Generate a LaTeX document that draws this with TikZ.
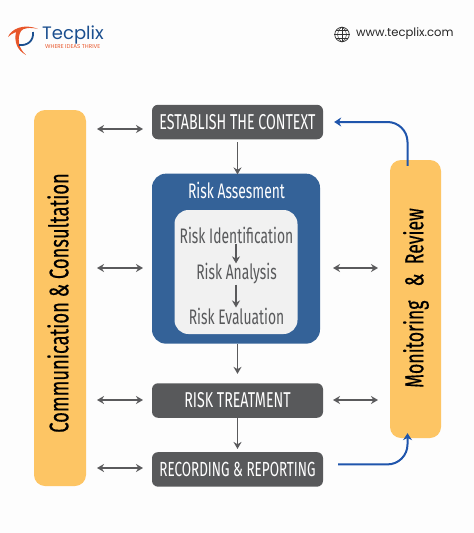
\documentclass[tikz,border=0pt]{standalone}
\usepackage{fontspec}
\usepackage{xcolor}
\usetikzlibrary{arrows.meta,positioning}
\setmainfont{Fira Sans}
\newfontfamily\condfont[FakeStretch=0.66]{Fira Sans}
\newfontfamily\sidefont[FakeStretch=0.68,FakeBold=0.4]{Fira Sans}
\newfontfamily\logofont{Poppins}
\definecolor{pagegrey}{HTML}{FDFDFD}
\definecolor{boxgrey}{HTML}{58595B}
\definecolor{arrowgrey}{HTML}{5A5A5C}
\definecolor{assessblue}{HTML}{346298}
\definecolor{innergrey}{HTML}{F1F1F1}
\definecolor{sideyellow}{HTML}{FDC564}
\definecolor{loopblue}{HTML}{1F55AC}
\definecolor{logonavy}{HTML}{1B4F8F}
\definecolor{logoorange}{HTML}{E8562A}

\begin{document}
\begin{tikzpicture}[
  x=1pt,y=-1pt,
  node distance=34pt,
  stepbox/.style={fill=boxgrey,text=white,rounded corners=6pt,minimum width=171pt,
    minimum height=34.5pt,inner sep=0pt,font=\condfont\fontsize{21.5}{23}\selectfont},
  sidebox/.style={fill=sideyellow,rounded corners=11pt,inner sep=0pt},
  sidetext/.style={rotate=90,text=black,font=\sidefont\fontsize{27}{29}\selectfont},
  subtext/.style={text=boxgrey,inner sep=0pt,font=\condfont\fontsize{21}{23}\selectfont},
  flow/.style={-{Stealth[length=7pt,width=8pt]},arrowgrey,line width=1.8pt},
  both/.style={{Stealth[length=7pt,width=8pt]}-{Stealth[length=7pt,width=8pt]},arrowgrey,line width=1.8pt},
  loopflow/.style={-{Stealth[length=7pt,width=9pt]},loopblue,line width=2pt}
]
\useasboundingbox (0,0) rectangle (474,533);
\fill[pagegrey] (0,0) rectangle (474,533);

% logo and web address
\node[inner sep=0pt,anchor=west,text=logonavy,font=\logofont\fontsize{18}{20}\selectfont] (brand) at (42,35) {Tecplix};
\node[inner sep=0pt,anchor=north west,text=logoorange,font=\logofont\fontsize{5.6}{6}\selectfont] (tagline) at (45,44.5) {WHERE IDEAS THRIVE};
\fill[logoorange] (8,37) .. controls (11,29) and (24,23) .. (38,29) .. controls (30,27) and (23,28) .. (21,31)
  .. controls (17,38) and (18,48) .. (26,55) .. controls (17,50) and (14,42) .. (16,32) .. controls (13,33) and (10,35) .. (8,37);
\draw[logonavy,line width=1.8pt] (33,32) .. controls (34,41) and (27,46) .. (19,45);
\node[inner sep=0pt,anchor=west,text=black!85,font=\logofont\fontsize{11.6}{13}\selectfont] (web) at (356,34) {www.tecplix.com};
\node[draw=black!80,circle,line width=.7pt,minimum size=14.5pt,inner sep=0pt] (globe) at (342,34.5) {};
\draw[black!80,line width=.5pt] (globe.north) -- (globe.south) (globe.west) -- (globe.east);
\draw[black!80,line width=.5pt] (globe.north) .. controls (336,30) and (336,39) .. (globe.south);
\draw[black!80,line width=.5pt] (globe.north) .. controls (348,30) and (348,39) .. (globe.south);
\draw[black!80,line width=.5pt] (336,30.5) -- (348,30.5) (336,38.5) -- (348,38.5);

% centre column
\node[stepbox] (context) at (237.5,122) {ESTABLISH THE CONTEXT};
\node[fill=assessblue,rounded corners=14pt,minimum width=168pt,minimum height=170pt,inner sep=0pt,
  below=34pt of context.south,anchor=north,xshift=-1.5pt] (assess) {};
\node[text=white,inner sep=0pt,font=\condfont\fontsize{21}{23}\selectfont] (assesstitle) at (236.5,190) {Risk Assesment};
\node[fill=innergrey,rounded corners=14pt,minimum width=123pt,minimum height=124pt,inner sep=0pt] (inner) at (236,272) {};
\node[subtext] (identify) at (236.5,235) {Risk Identification};
\node[subtext] (analysis) at (236.5,274) {Risk Analysis};
\node[subtext] (evaluate) at (236.5,316) {Risk Evaluation};
\node[stepbox] (treat) at (237.5,400.5) {RISK TREATMENT};
\node[stepbox,below=34pt of treat,font=\condfont\fontsize{20.4}{23}\selectfont] (record) {RECORDING \& REPORTING};

% side bars
\node[sidebox,minimum width=52pt,minimum height=376pt] (comm) at (60,298) {};
\node[sidetext] (commtext) at (58,303) {Communication \& Consultation};
\node[sidebox,minimum width=51pt,minimum height=278pt] (monitor) at (415.5,299) {};
\node[sidetext,font=\sidefont\fontsize{26}{28}\selectfont] (monitortext) at (416,298) {Monitoring\ \ \ \&\ \ Review};

% helper points for the free ends
\coordinate (lefta) at (97,129);
\coordinate (leftb) at (97,268);
\coordinate (leftc) at (97,400);
\coordinate (leftd) at (97,468);

% connectors
\draw[flow] (context.south) ++(0,3) -- ([yshift=-1pt]assess.north -| context.south);
\draw[flow] (assess.south -| context.south) -- ++(0,30);
\draw[flow] (treat.south) -- ++(0,31);
\draw[flow] (identify.south -| inner.north) -- (analysis.north -| inner.north);
\draw[flow] (analysis.south -| inner.north) -- (evaluate.north -| inner.north);
\draw[both] (lefta) -- ++(46,0);
\draw[both] (leftb) -- ++(46,0);
\draw[both] (leftc) -- ++(46,0);
\draw[both] (leftd) -- ++(46,0);
\draw[both] (333,268) -- (378,268);
\draw[both] (333,400) -- (378,400);
\draw[loopflow,rounded corners=20pt] ([xshift=-8pt,yshift=-6pt]monitor.north) |- ([xshift=11pt]context.east);
\draw[loopflow,rounded corners=20pt] ([xshift=15pt,yshift=5pt]record.east) -| ([xshift=-8pt,yshift=5pt]monitor.south);
\end{tikzpicture}
\end{document}
